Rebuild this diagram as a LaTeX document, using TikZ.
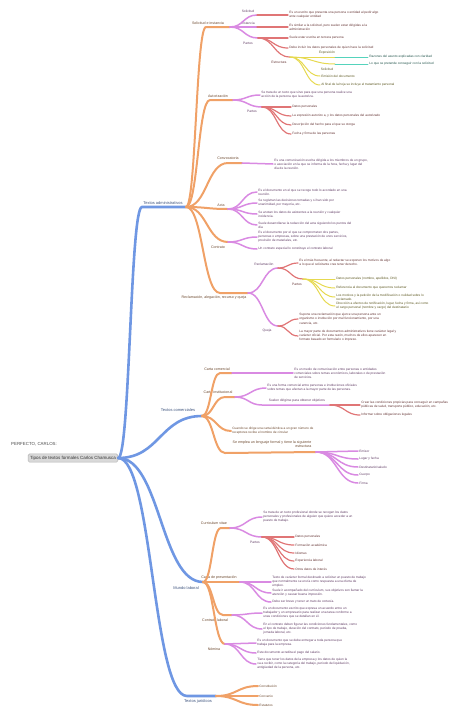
\documentclass[tikz,border=0pt]{standalone}
\usepackage{fontspec}
\setmainfont{Liberation Sans}
\usetikzlibrary{calc}
\definecolor{cblue}{HTML}{6F97E3}
\definecolor{corange}{HTML}{F0A167}
\definecolor{cpurple}{HTML}{D98AE2}
\definecolor{cred}{HTML}{E07576}
\definecolor{cyellow}{HTML}{E6D950}
\definecolor{cteal}{HTML}{55D3BC}

\begin{document}
\begin{tikzpicture}[
        x=1pt, y=-1pt,
        font=\fontsize{3.2}{4.1}\selectfont,
        curve/.style={line cap=round,
          to path={let \p1=(\tikztostart), \p2=(\tikztotarget) in
            .. controls ({0.5*\x1+0.5*\x2},\y1) and ({0.5*\x1+0.5*\x2},\y2) .. (\tikztotarget)}},
        bb/.style={curve, draw=cblue, line width=2.6pt},
        ob/.style={curve, draw=corange, line width=2pt},
        pb/.style={curve, draw=cpurple, line width=1.5pt},
        rb/.style={curve, draw=cred, line width=1.2pt},
        yb/.style={curve, draw=cyellow, line width=1pt},
        tb/.style={curve, draw=cteal, line width=0.9pt},
        rootbox/.style={draw=black!30, fill=black!15, rounded corners=1.5pt, inner sep=2pt,
          font=\fontsize{4.5}{5}\selectfont, text=black!80},
        blbl/.style={inner sep=0.5pt, font=\fontsize{4}{4.6}\selectfont, text=cblue!55!black},
        olbl/.style={inner sep=0.5pt, font=\fontsize{3.6}{4.2}\selectfont, text=corange!45!black},
        plbl/.style={inner sep=0.5pt, font=\fontsize{3.3}{4}\selectfont, text=cpurple!45!black},
        rlbl/.style={inner sep=0.5pt, font=\fontsize{3.3}{4}\selectfont, text=cred!45!black},
        ylbl/.style={inner sep=0.5pt, font=\fontsize{3.3}{4}\selectfont, text=cyellow!40!black},
        leaf/.style={anchor=west, inner sep=1.2pt, align=left},
        oleaf/.style={leaf, text=corange!45!black},
        pleaf/.style={leaf, text=cpurple!45!black},
        rleaf/.style={leaf, text=cred!45!black},
        yleaf/.style={leaf, text=cyellow!40!black},
        tleaf/.style={leaf, text=cteal!40!black}
      ]
      \useasboundingbox (0,0) rectangle (474,718);

      \node[rootbox] (root) at (73,458) {Tipos de textos formales Carlos Chamusca};
      \node[anchor=west, inner sep=0pt, font=\fontsize{4.4}{5}\selectfont, text=black!70] (perf) at (11,444) {PERFECTO, CARLOS:};

      \coordinate (ta-s) at (142,207); \coordinate (ta) at (186,207);
      \coordinate (tc) at (202,416);
      \coordinate (ml) at (203,582);
      \coordinate (tj-s) at (187,696); \coordinate (tj) at (216,696);
      \node[blbl] (ta-l) at (163,203) {Textos administrativos};
      \node[blbl] (tc-l) at (178,410) {Textos comerciales};
      \node[blbl] (ml-l) at (186,588) {Mundo laboral};
      \node[blbl] (tj-l) at (198,701) {Textos jurídicos};

      \coordinate (si-s) at (206,27); \coordinate (si) at (230,27);
      \coordinate (au-s) at (210,100); \coordinate (au) at (233,100);
      \coordinate (cv-s) at (228,163); \coordinate (cv) at (242,163);
      \coordinate (ac) at (228,209);
      \coordinate (ct) at (228,242);
      \coordinate (rc-s) at (220,293); \coordinate (rc) at (248,293);
      \node[olbl] (si-l) at (208,23) {Solicitud e instancia};
      \node[olbl] (au-l) at (218,96) {Autorización};
      \node[olbl] (cv-l) at (228,158) {Convocatoria};
      \node[olbl] (ac-l) at (221,205) {Acta};
      \node[olbl] (ct-l) at (218,247) {Contrato};
      \node[olbl] (rc-l) at (214,298) {Reclamación, alegación, recurso y queja};

      \coordinate (sol) at (257,15); \coordinate (ins) at (257,27); \coordinate (pa1) at (258,38);
      \node[plbl] (sol-l) at (248,11) {Solicitud};
      \node[plbl] (ins-l) at (248,23) {Instancia};
      \node[plbl] (pa1-l) at (248,43) {Partes};
      \node[rleaf] (sol-t) at (288,15) {Es un escrito que presenta una persona o entidad al pedir algo\\ante cualquier entidad};
      \node[rleaf] (ins-t) at (288,27) {Es similar a la solicitud, pero suelen estar dirigidas a la\\administración};
      \node[rleaf] (pa1-a) at (288,38) {Suele estar escrita en tercera persona};
      \node[rleaf] (pa1-b) at (288,48) {Debe incluir los datos personales de quien hace la solicitud};
      \coordinate (es) at (290,57);
      \node[rlbl] (es-l) at (279,62) {Estructura};
      \coordinate (ex) at (335,57); \coordinate (so2) at (335,64);
      \node[ylbl] (ex-l) at (327,53) {Exposición};
      \node[ylbl] (so2-l) at (327,69) {Solicitud};
      \node[yleaf] (em-t) at (320,76) {Emisión del documento};
      \node[yleaf] (fi-t) at (320,85) {Al final de la hoja se incluye el tratamiento personal};
      \node[tleaf] (ex-t) at (368,57) {Razones del asunto explicadas con claridad};
      \node[tleaf] (so2-t) at (368,64) {Lo que se pretende conseguir con la solicitud};

      \node[pleaf] (au-t) at (260,95) {Se trata de un texto que sirve para que una persona realice una\\acción de la persona que la autoriza.};
      \coordinate (pa2) at (262,107);
      \node[plbl] (pa2-l) at (252,111) {Partes};
      \node[rleaf] (pa2-a) at (291,107) {Datos personales};
      \node[rleaf] (pa2-b) at (291,116) {La expresión autorizo a, y los datos personales del autorizado};
      \node[rleaf] (pa2-c) at (291,125) {Descripción del hecho para el que se otorga};
      \node[rleaf] (pa2-d) at (291,134) {Fecha y firma de las personas};

      \node[pleaf] (cv-t) at (273,164) {Es una comunicación escrita dirigida a los miembros de un grupo,\\o asociación en la que se informa de la hora, fecha y lugar del\\día de la reunión.};

      \node[pleaf] (ac-a) at (257,192) {Es el documento en el que se recoge todo lo acordado en una\\reunión.};
      \node[pleaf] (ac-b) at (257,203) {Se registran las decisiones tomadas y si han sido por\\unanimidad, por mayoría, etc.};
      \node[pleaf] (ac-c) at (257,214) {Se anotan los datos de asistentes a la reunión y cualquier\\incidencia.};
      \node[pleaf] (ac-d) at (257,225) {Suele desarrollarse la redacción del acta siguiendo los puntos del\\día};

      \node[pleaf] (ct-a) at (257,237) {Es el documento por el que se comprometen dos partes,\\personas o empresas, sobre una prestación de unos servicios,\\provisión de materiales, etc.};
      \node[pleaf] (ct-b) at (257,249) {Un contrato especial lo constituye el contrato laboral};

      \coordinate (rcl) at (278,268); \coordinate (qj) at (278,326);
      \node[plbl] (rcl-l) at (264,264) {Reclamación};
      \node[plbl] (qj-l) at (267,331) {Queja};
      \node[rleaf] (rcl-t) at (298,263) {Es el más frecuente, al redactar se exponen los motivos de algo\\a lo que el solicitante cree tener derecho.};
      \coordinate (pa3) at (303,279);
      \node[rlbl] (pa3-l) at (297,284) {Partes};
      \node[yleaf] (pa3-a) at (335,279) {Datos personales (nombre, apellidos, DNI)};
      \node[yleaf] (pa3-b) at (335,288) {Referencia al documento que queremos reclamar};
      \node[yleaf] (pa3-c) at (335,297) {Los motivos y la petición de la modificación o nulidad sobre lo\\reclamado.};
      \node[yleaf] (pa3-d) at (335,306) {Dirección a efectos de notificación, lugar, fecha y firma, así como\\el cargo personal (nombre y cargo) del destinatario};
      \node[rleaf] (qj-a) at (298,319) {Supone una reclamación que ejerce una persona ante un\\organismo o institución por mal funcionamiento, por una\\carencia, etc.};
      \node[rleaf] (qj-b) at (298,336) {La mayor parte de documentos administrativos tiene carácter legal y\\carácter oficial. Por esta razón, muchos de ellos aparecen en\\formato basado en formulario o impreso.};

      \coordinate (cc-s) at (220,373); \coordinate (cc) at (232,373);
      \coordinate (ci-s) at (225,397); \coordinate (ci) at (235,397);
      \coordinate (le-s) at (225,453); \coordinate (le) at (316,452);
      \node[olbl] (cc-l) at (217,369) {Carta comercial};
      \node[olbl] (ci-l) at (218,392) {Carta institucional};
      \node[oleaf] (circ-t) at (231,431) {Cuando se dirige una carta idéntica a un gran número de\\receptores recibe el nombre de circular};
      \node[olbl, align=right] (le-l) at (272,444) {Se emplea un lenguaje formal y tiene la siguiente\\estructura};
      \node[pleaf] (cc-t) at (293,373) {Es un medio de comunicación entre personas o entidades\\comerciales sobre temas económicos, laborales o de prestación\\de servicios.};
      \node[pleaf] (ci-t) at (266,388) {Es una forma comercial entre personas e instituciones oficiales\\sobre temas que afectan a la mayor parte de las personas.};
      \coordinate (sd-s) at (262,405); \coordinate (sd) at (330,405);
      \node[plbl] (sd-l) at (297,401) {Suelen dirigirse para obtener objetivos};
      \node[rleaf] (sd-a) at (360,405) {Crear las condiciones propicias para conseguir en campañas\\públicas de salud, transporte público, educación, etc.};
      \node[rleaf] (sd-b) at (360,415) {Informar sobre obligaciones legales};
      \node[pleaf] (le-a) at (358,451) {Emisor};
      \node[pleaf] (le-b) at (358,459) {Lugar y fecha};
      \node[pleaf] (le-c) at (358,467) {Destinatario/saludo};
      \node[pleaf] (le-d) at (358,475) {Cuerpo};
      \node[pleaf] (le-e) at (358,483) {Firma};

      \coordinate (cu-s) at (221,528); \coordinate (cu) at (230,528);
      \coordinate (cp) at (240,582);
      \coordinate (cl-s) at (223,615); \coordinate (cl) at (232,615);
      \coordinate (nm) at (225,644);
      \node[olbl] (cu-l) at (214,523) {Curriculum vitae};
      \node[olbl] (cp-l) at (219,578) {Carta de presentación};
      \node[olbl] (cl-l) at (215,620) {Contrato laboral};
      \node[olbl] (nm-l) at (214,649) {Nómina};
      \node[pleaf] (cu-t) at (262,517) {Se trata de un texto profesional donde se recogen los datos\\personales y profesionales de alguien que quiere acceder a un\\puesto de trabajo.};
      \coordinate (pa4) at (262,537);
      \node[plbl] (pa4-l) at (255,542) {Partes};
      \node[rleaf] (pa4-a) at (294,537) {Datos personales};
      \node[rleaf] (pa4-b) at (294,545) {Formación académica};
      \node[rleaf] (pa4-c) at (294,553) {Idiomas};
      \node[rleaf] (pa4-d) at (294,561) {Experiencia laboral};
      \node[rleaf] (pa4-e) at (294,569) {Otros datos de interés};
      \node[pleaf] (cp-a) at (271,582) {Texto de carácter formal destinado a solicitar un puesto de trabajo\\que normalmente se envía como respuesta a una oferta de\\empleo.};
      \node[pleaf] (cp-b) at (271,593) {Suele ir acompañado del currículum, sus objetivos son llamar la\\atención y causar buena impresión.};
      \node[pleaf] (cp-c) at (271,602) {Debe ser breve y tener un trato de cortesía.};
      \node[pleaf] (cl-a) at (262,613) {Es un documento escrito que expresa un acuerdo entre un\\trabajador y un empresario para realizar una tarea conforme a\\unas condiciones que se detallan en él.};
      \node[pleaf] (cl-b) at (262,629) {En el contrato deben figurar las condiciones fundamentales, como\\el tipo de trabajo, duración del contrato, periodo de prueba,\\jornada laboral, etc.};
      \node[pleaf] (nm-a) at (256,643) {Es un documento que se debe entregar a toda persona que\\trabaja para la empresa.};
      \node[pleaf] (nm-b) at (256,653) {Este documento acredita el pago del salario.};
      \node[pleaf] (nm-c) at (256,664) {Tiene que tener los datos de la empresa y los datos de quien la\\va a recibir, como la categoría del trabajo, periodo de liquidación,\\antigüedad de la persona, etc.};

      \node[oleaf] (tj-a) at (258,686) {Constitución};
      \node[oleaf] (tj-b) at (258,696) {Convenio};
      \node[oleaf] (tj-c) at (258,705) {Estatutos};

      \draw[bb] (root.east) to (ta-s) -- (ta);
      \draw[bb] (root.east) to (tc);
      \draw[bb] (root.east) to (ml);
      \draw[bb] (root.east) to (tj-s) -- (tj);

      \draw[ob] (ta) to (si-s) -- (si);
      \draw[ob] (ta) to (au-s) -- (au);
      \draw[ob] (ta) to (cv-s) -- (cv);
      \draw[ob] (ta) to (ac);
      \draw[ob] (ta) to (ct);
      \draw[ob] (ta) to (rc-s) -- (rc);

      \draw[pb] (si) to (sol);
      \draw[pb] (si) to (ins);
      \draw[pb] (si) to (pa1);
      \draw[rb] (sol) to (sol-t.west);
      \draw[rb] (ins) to (ins-t.west);
      \draw[rb] (pa1) to (pa1-a.west);
      \draw[rb] (pa1) to (pa1-b.west);
      \draw[rb] (pa1) to (es);
      \draw[yb] (es) to (ex);
      \draw[yb] (es) to (so2);
      \draw[yb] (es) to (em-t.west);
      \draw[yb] (es) to (fi-t.west);
      \draw[tb] (ex) to (ex-t.west);
      \draw[tb] (so2) to (so2-t.west);

      \draw[pb] (au) to (au-t.west);
      \draw[pb] (au) to (pa2);
      \draw[rb] (pa2) to (pa2-a.west);
      \draw[rb] (pa2) to (pa2-b.west);
      \draw[rb] (pa2) to (pa2-c.west);
      \draw[rb] (pa2) to (pa2-d.west);

      \draw[pb] (cv) to (cv-t.west);

      \draw[pb] (ac) to (ac-a.west);
      \draw[pb] (ac) to (ac-b.west);
      \draw[pb] (ac) to (ac-c.west);
      \draw[pb] (ac) to (ac-d.west);

      \draw[pb] (ct) to (ct-a.west);
      \draw[pb] (ct) to (ct-b.west);

      \draw[pb] (rc) to (rcl);
      \draw[pb] (rc) to (qj);
      \draw[rb] (rcl) to (rcl-t.west);
      \draw[rb] (rcl) to (pa3);
      \draw[yb] (pa3) to (pa3-a.west);
      \draw[yb] (pa3) to (pa3-b.west);
      \draw[yb] (pa3) to (pa3-c.west);
      \draw[yb] (pa3) to (pa3-d.west);
      \draw[rb] (qj) to (qj-a.west);
      \draw[rb] (qj) to (qj-b.west);

      \draw[ob] (tc) to (cc-s) -- (cc);
      \draw[ob] (tc) to (ci-s) -- (ci);
      \draw[ob] (tc) to (circ-t.west);
      \draw[ob] (tc) to (le-s) -- (le);
      \draw[pb] (cc) to (cc-t.west);
      \draw[pb] (ci) to (ci-t.west);
      \draw[pb] (ci) to (sd-s) -- (sd);
      \draw[rb] (sd) to (sd-a.west);
      \draw[rb] (sd) to (sd-b.west);
      \draw[pb] (le) to (le-a.west);
      \draw[pb] (le) to (le-b.west);
      \draw[pb] (le) to (le-c.west);
      \draw[pb] (le) to (le-d.west);
      \draw[pb] (le) to (le-e.west);

      \draw[ob] (ml) to (cu-s) -- (cu);
      \draw[ob] (ml) to (cp);
      \draw[ob] (ml) to (cl-s) -- (cl);
      \draw[ob] (ml) to (nm);
      \draw[pb] (cu) to (cu-t.west);
      \draw[pb] (cu) to (pa4);
      \draw[rb] (pa4) to (pa4-a.west);
      \draw[rb] (pa4) to (pa4-b.west);
      \draw[rb] (pa4) to (pa4-c.west);
      \draw[rb] (pa4) to (pa4-d.west);
      \draw[rb] (pa4) to (pa4-e.west);
      \draw[pb] (cp) to (cp-a.west);
      \draw[pb] (cp) to (cp-b.west);
      \draw[pb] (cp) to (cp-c.west);
      \draw[pb] (cl) to (cl-a.west);
      \draw[pb] (cl) to (cl-b.west);
      \draw[pb] (nm) to (nm-a.west);
      \draw[pb] (nm) to (nm-b.west);
      \draw[pb] (nm) to (nm-c.west);

      \draw[ob] (tj) to (tj-a.west);
      \draw[ob] (tj) to (tj-b.west);
      \draw[ob] (tj) to (tj-c.west);
    \end{tikzpicture}
\end{document}
